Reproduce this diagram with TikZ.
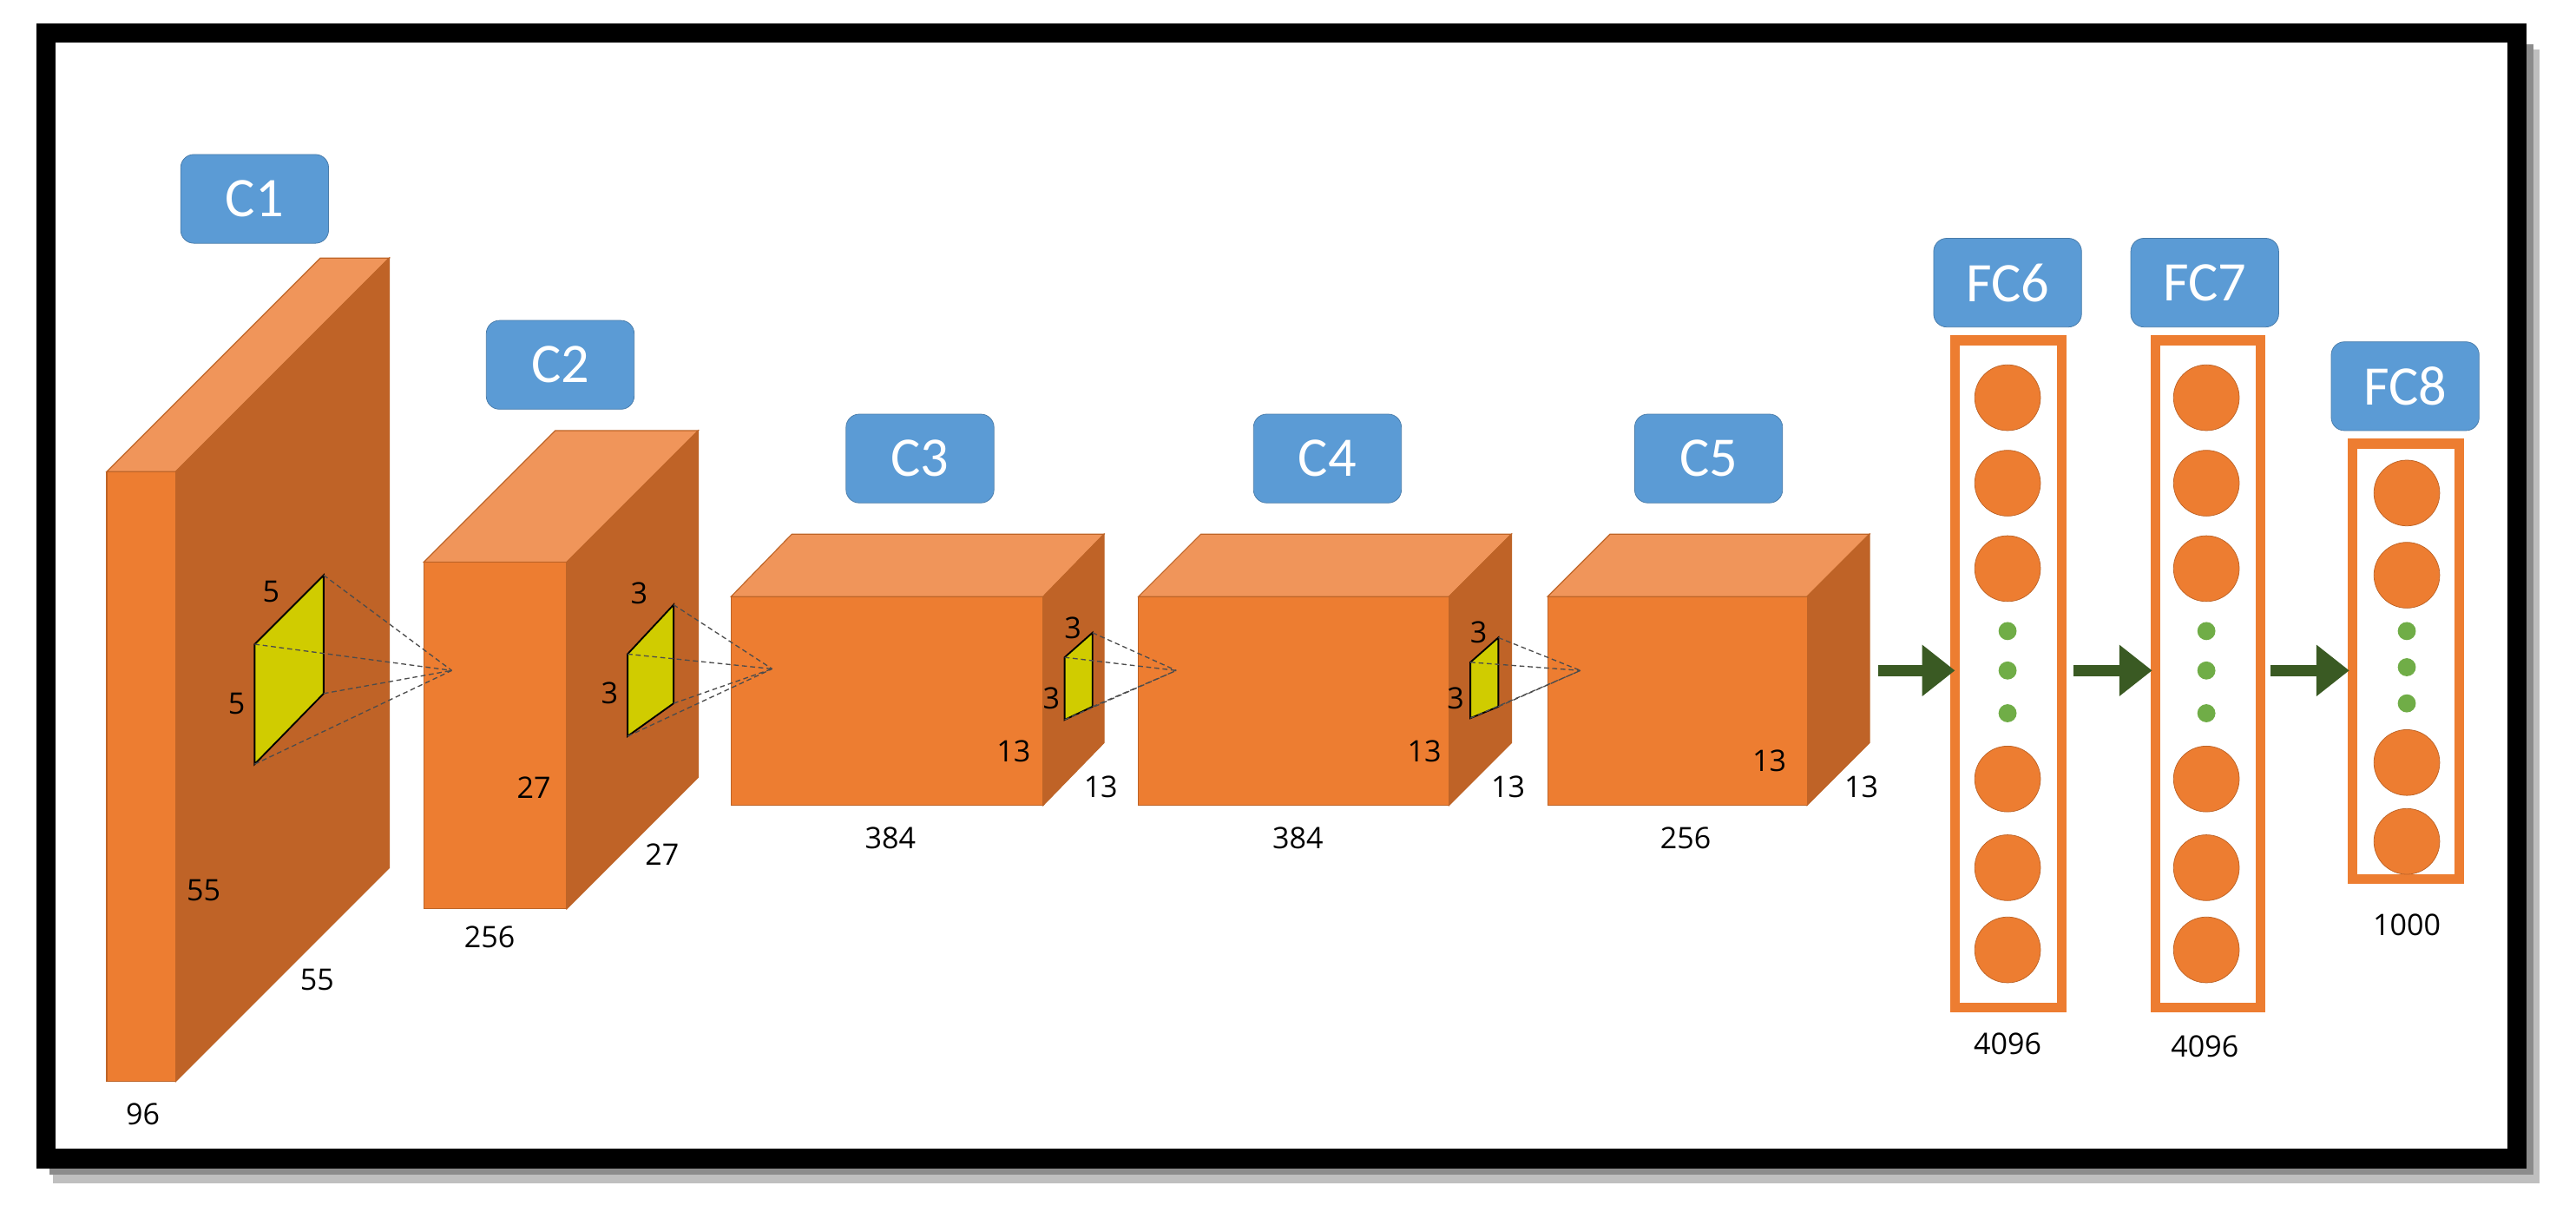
\documentclass[tikz,border=0pt]{standalone}
\usepackage{fontspec}
\setmainfont{Open Sans}
\newfontfamily\lblfont{Carlito}
\usetikzlibrary{arrows.meta}
\definecolor{ofront}{HTML}{ED7D31}
\definecolor{oside}{HTML}{BF6327}
\definecolor{otop}{HTML}{F0955A}
\definecolor{ylw}{HTML}{D0CC00}
\definecolor{lblue}{HTML}{5B9BD5}
\definecolor{agreen}{HTML}{3A5A23}
\definecolor{dotg}{HTML}{70AD47}
\newcommand\mycube[6]{% x1 x2 ytop ybot dx dy
  \fill[otop,draw=ofront!80!black,line width=0.6pt] (#1,#3)--(#2,#3)--(#2+#5,#3-#6)--(#1+#5,#3-#6)--cycle;
  \fill[oside,draw=ofront!80!black,line width=0.6pt] (#2,#3)--(#2+#5,#3-#6)--(#2+#5,#4-#6)--(#2,#4)--cycle;
  \fill[ofront,draw=ofront!80!black,line width=0.6pt] (#1,#3) rectangle (#2,#4);}
\tikzset{
  lbl/.style={fill=lblue,draw=lblue!80!black,rounded corners=8pt,text=white,font=\lblfont\fontsize{34}{34}\selectfont,minimum width=90pt,minimum height=54pt,inner sep=0pt},
  num/.style={font=\fontsize{18}{18}\selectfont,inner sep=0pt},
  patch/.style={fill=ylw,draw=black,line width=1pt},
  ray/.style={draw=black!70,line width=0.7pt,densely dashed},
  fcbox/.style={draw=ofront,line width=6pt},
  neuron/.style={circle,fill=ofront,draw=ofront!80!black,minimum size=40pt,inner sep=0pt},
  gdot/.style={circle,fill=dotg,minimum size=11pt,inner sep=0pt},
  garrow/.style={draw=agreen,line width=7pt,-{Triangle[length=20pt,width=30pt]}}
}
\begin{document}
\begin{tikzpicture}[x=1pt,y=-1pt]
\useasboundingbox (0,0) rectangle (1568,737);
\fill[white] (0,0) rectangle (1568,737);
\fill[black!25] (32,30) rectangle (1546,720);
\fill[black!45] (30,27) rectangle (1542,715);
\draw[line width=12pt,fill=white] (28,20) rectangle (1532,705);
% cuboids
\mycube{65}{107}{287}{658}{130}{130}
\mycube{258}{345}{342}{553}{80}{80}
\mycube{445}{635}{363}{490}{37}{38}
\mycube{693}{882}{363}{490}{38}{38}
\mycube{942}{1100}{363}{490}{38}{38}
% patches and rays
\coordinate (p1a) at (155,392); \coordinate (p1b) at (197,350); \coordinate (p1c) at (197,422); \coordinate (p1d) at (155,465); \coordinate (t1) at (275,408);
\fill[patch] (p1a)--(p1b)--(p1c)--(p1d)--cycle;
\draw[ray] (p1b)--(t1) (p1a)--(t1) (p1c)--(t1) (p1d)--(t1);
\coordinate (p2a) at (382,398); \coordinate (p2b) at (410,368); \coordinate (p2c) at (410,428); \coordinate (p2d) at (382,448); \coordinate (t2) at (470,407);
\fill[patch] (p2a)--(p2b)--(p2c)--(p2d)--cycle;
\draw[ray] (p2b)--(t2) (p2a)--(t2) (p2c)--(t2) (p2d)--(t2);
\coordinate (p3a) at (648,400); \coordinate (p3b) at (665,385); \coordinate (p3c) at (665,430); \coordinate (p3d) at (648,438); \coordinate (t3) at (716,408);
\fill[patch] (p3a)--(p3b)--(p3c)--(p3d)--cycle;
\draw[ray] (p3b)--(t3) (p3a)--(t3) (p3c)--(t3) (p3d)--(t3);
\coordinate (p4a) at (895,403); \coordinate (p4b) at (912,388); \coordinate (p4c) at (912,430); \coordinate (p4d) at (895,437); \coordinate (t4) at (962,408);
\fill[patch] (p4a)--(p4b)--(p4c)--(p4d)--cycle;
\draw[ray] (p4b)--(t4) (p4a)--(t4) (p4c)--(t4) (p4d)--(t4);
% labels
\node[lbl] (c1) at (155,121) {C1};
\node[lbl] (c2) at (341,222) {C2};
\node[lbl] (c3) at (560,279) {C3};
\node[lbl] (c4) at (808,279) {C4};
\node[lbl] (c5) at (1040,279) {C5};
\node[lbl] (fc6) at (1222,172) {FC6};
\node[lbl] (fc7) at (1342,172) {FC7};
\node[lbl] (fc8) at (1464,235) {FC8};
% numbers
\node[num] (n1) at (165,360) {5};
\node[num] (n2) at (144,428) {5};
\node[num] (n3) at (124,542) {55};
\node[num] (n4) at (193,596) {55};
\node[num] (n5) at (87,678) {96};
\node[num] (n6) at (389,361) {3};
\node[num] (n7) at (371,422) {3};
\node[num] (n8) at (325,479) {27};
\node[num] (n9) at (403,520) {27};
\node[num] (n10) at (298,570) {256};
\node[num] (n11) at (653,382) {3};
\node[num] (n12) at (640,425) {3};
\node[num] (n13) at (617,457) {13};
\node[num] (n14) at (670,479) {13};
\node[num] (n15) at (542,510) {384};
\node[num] (n16) at (900,385) {3};
\node[num] (n17) at (886,425) {3};
\node[num] (n18) at (867,457) {13};
\node[num] (n19) at (918,479) {13};
\node[num] (n20) at (790,510) {384};
\node[num] (n21) at (1077,463) {13};
\node[num] (n22) at (1133,479) {13};
\node[num] (n23) at (1026,510) {256};
\node[num] (n24) at (1222,635) {4096};
\node[num] (n25) at (1342,637) {4096};
\node[num] (n26) at (1465,563) {1000};
% FC layers
\draw[fcbox] (1190,207) rectangle (1255,613);
\draw[fcbox] (1312,207) rectangle (1376,613);
\draw[fcbox] (1432,270) rectangle (1497,535);
\foreach \y [count=\i] in {242,294,346,474,528,578} {
  \node[neuron] (a\i) at (1222,\y) {};
  \node[neuron] (b\i) at (1343,\y) {};}
\foreach \y [count=\i] in {384,408,434} {
  \node[gdot] (ad\i) at (1222,\y) {};
  \node[gdot] (bd\i) at (1343,\y) {};}
\foreach \y [count=\i] in {300,350,464,512} {\node[neuron] (c\i x) at (1465,\y) {};}
\foreach \y [count=\i] in {384,406,428} {\node[gdot] (cd\i) at (1465,\y) {};}
% arrows
\coordinate (s1) at (1143,408); \coordinate (e1) at (1190,408);
\coordinate (s2) at (1262,408); \coordinate (e2) at (1310,408);
\coordinate (s3) at (1382,408); \coordinate (e3) at (1430,408);
\draw[garrow] (s1)--(e1);
\draw[garrow] (s2)--(e2);
\draw[garrow] (s3)--(e3);
\end{tikzpicture}
\end{document}
